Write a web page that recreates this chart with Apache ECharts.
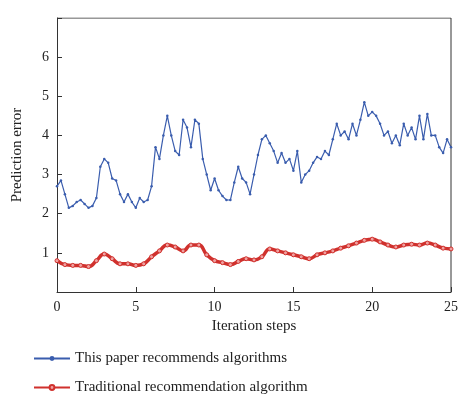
<!DOCTYPE html><html><head><meta charset="utf-8"><script src="https://cdn.jsdelivr.net/npm/echarts@6/dist/echarts.min.js"></script></head><body style="margin:0"><div id="c" style="width:474px;height:413px"></div><script>
const blueX=[0,0.25,0.5,0.75,1,1.25,1.5,1.75,2,2.25,2.5,2.75,3,3.25,3.5,3.75,4,4.25,4.5,4.75,5,5.25,5.5,5.75,6,6.25,6.5,6.75,7,7.25,7.5,7.75,8,8.25,8.5,8.75,9,9.25,9.5,9.75,10,10.25,10.5,10.75,11,11.25,11.5,11.75,12,12.25,12.5,12.75,13,13.25,13.5,13.75,14,14.25,14.5,14.75,15,15.25,15.5,15.75,16,16.25,16.5,16.75,17,17.25,17.5,17.75,18,18.25,18.5,18.75,19,19.25,19.5,19.75,20,20.25,20.5,20.75,21,21.25,21.5,21.75,22,22.25,22.5,22.75,23,23.25,23.5,23.75,24,24.25,24.5,24.75,25];
const blueY=[2.7,2.85,2.5,2.15,2.2,2.3,2.35,2.25,2.15,2.2,2.4,3.2,3.4,3.3,2.9,2.85,2.5,2.3,2.5,2.3,2.15,2.4,2.3,2.35,2.7,3.7,3.4,4.0,4.5,4.0,3.6,3.5,4.4,4.2,3.7,4.4,4.3,3.4,3.0,2.6,2.9,2.6,2.45,2.35,2.35,2.8,3.2,2.9,2.8,2.5,3.0,3.5,3.9,4.0,3.8,3.6,3.3,3.55,3.3,3.4,3.1,3.6,2.8,3.0,3.1,3.3,3.45,3.4,3.6,3.5,3.9,4.3,4.0,4.1,3.9,4.3,4.0,4.4,4.85,4.5,4.6,4.5,4.3,4.0,4.1,3.8,4.0,3.75,4.3,4.0,4.2,3.9,4.5,3.9,4.55,4.0,4.0,3.7,3.55,3.9,3.7];
const redX=[0,0.5,1,1.5,2,2.5,3,3.5,4,4.5,5,5.5,6,6.5,7,7.5,8,8.5,9,9.5,10,10.5,11,11.5,12,12.5,13,13.5,14,14.5,15,15.5,16,16.5,17,17.5,18,18.5,19,19.5,20,20.5,21,21.5,22,22.5,23,23.5,24,24.5,25];
const redY=[0.8,0.7,0.68,0.68,0.65,0.8,0.97,0.85,0.72,0.72,0.68,0.72,0.9,1.05,1.2,1.15,1.05,1.2,1.2,0.95,0.8,0.75,0.7,0.78,0.85,0.82,0.9,1.1,1.05,1.0,0.95,0.9,0.85,0.95,1.0,1.05,1.12,1.18,1.25,1.32,1.35,1.28,1.2,1.15,1.2,1.22,1.2,1.25,1.2,1.12,1.1];
const xTicks=[0,5,10,15,20,25];
const names=['This paper recommends algorithms','Traditional recommendation algorithm'];
const F='Liberation Serif';
const ch=echarts.init(document.getElementById('c'));
ch.setOption({animation:false,textStyle:{fontFamily:F},
grid:{left:57,right:23,top:18,bottom:121},
legend:{orient:'vertical',left:28,top:346,itemGap:14,itemWidth:36,itemHeight:6,textStyle:{fontFamily:F,fontSize:15,color:'#222'},data:names},
xAxis:{type:'value',min:0,max:25,interval:5,name:'Iteration steps',nameLocation:'middle',nameGap:26,nameTextStyle:{fontFamily:F,fontSize:15,color:'#222'},
axisLine:{lineStyle:{color:'#333'}},axisTick:{inside:true,lineStyle:{color:'#333'}},axisLabel:{fontFamily:F,fontSize:14,color:'#222'},splitLine:{show:false}},
yAxis:{type:'value',min:0,max:7,interval:1,name:'Prediction error',nameLocation:'middle',nameGap:32,nameTextStyle:{fontFamily:F,fontSize:15,color:'#222'},
axisLine:{lineStyle:{color:'#333'}},axisTick:{inside:true,lineStyle:{color:'#333'}},axisLabel:{fontFamily:F,fontSize:14,color:'#222',formatter:v=>(v>=1&&v<=6)?v:''},splitLine:{show:false}},
series:[
{name:names[0],type:'line',data:blueX.map((x,i)=>[x,blueY[i]]),symbol:'circle',symbolSize:2.5,itemStyle:{color:'#3a5dae'},lineStyle:{width:1.2,color:'#3a5dae'}},
{name:names[1],type:'line',smooth:true,data:redX.map((x,i)=>[x,redY[i]]),symbol:'circle',symbolSize:4,itemStyle:{color:'#f0a0a0',borderColor:'#d0312d',borderWidth:1},lineStyle:{width:3.5,color:'#d0312d'}},
{type:'line',silent:true,data:[[0,7],[25,7],[25,0]],symbol:'none',lineStyle:{color:'#333',width:1},tooltip:{show:false}}
]});
</script></body></html>
